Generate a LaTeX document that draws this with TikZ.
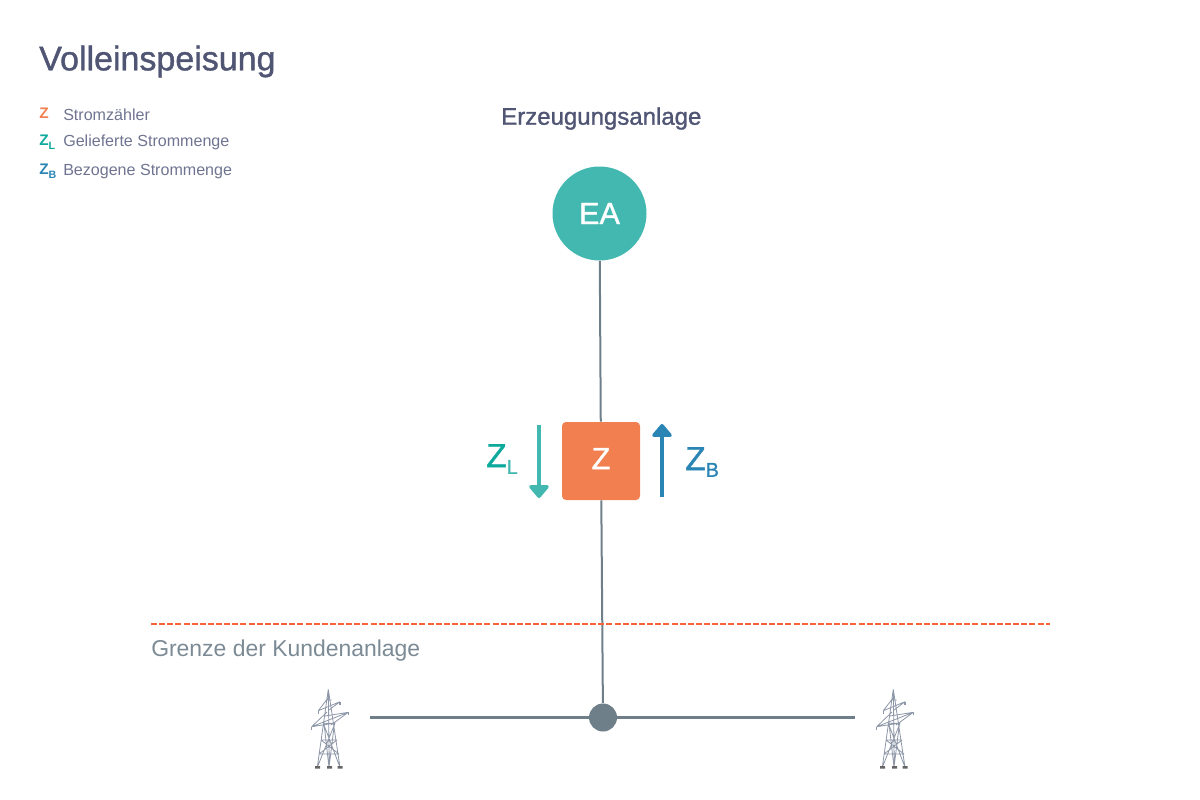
\documentclass[tikz,border=0pt]{standalone}
\usepackage{fontspec}
\setmainfont{Liberation Sans}
\newfontfamily\mediumfont[FakeBold=1.2]{Liberation Sans}
\usetikzlibrary{arrows.meta, positioning}
\definecolor{titleblue}{HTML}{4F5573}
\definecolor{legendgray}{HTML}{6F7490}
\definecolor{eateal}{HTML}{42B8B0}
\definecolor{deepteal}{HTML}{0CA99C}
\definecolor{meterorange}{HTML}{F27F4F}
\definecolor{flowblue}{HTML}{2A85B5}
\definecolor{linegray}{HTML}{6F7F8A}
\definecolor{borderred}{HTML}{F9623A}
\definecolor{bordertext}{HTML}{7B8A94}
\definecolor{pylongray}{HTML}{8E97A8}
\tikzset{
  lbl/.style={anchor=west, inner sep=0pt},
  legendtext/.style={lbl, font=\fontsize{12.05}{14}\selectfont, text=legendgray},
  legendkey/.style={lbl, font=\fontsize{11.5}{14}\selectfont\bfseries},
  flow/.style={line width=3.4pt, -{Triangle[length=10.5pt, width=17pt, round]}},
  wire/.style={draw=linegray, line width=1.5pt},
  pics/pylon/.style={code={
    \draw[pylongray, line width=0.6pt, line join=round]
      (-1.7,-40.7) -- (-12.7,37.3) (-1.7,-40.7) -- (10,37.3) (-1.7,-40.7) -- (-0.7,37.3)
      (-4,-30) -- (1.7,-30)
      (-11.7,-19.3) -- (10,-28.3) (-11.7,-19.3) -- (-2,-32) (10,-28.3) -- (-1,-20)
      (-18.3,-3.3) -- (18.3,-17.7) (-18.3,-3.3) -- (-3,-18) (18.3,-17.7) -- (1,-5)
      (-18.3,-3.3) -- (5,-7) (18.3,-17.7) -- (-5,-14)
      (-6.7,-6.7) -- (10,37.3) (5,-6.7) -- (-12.7,37.3)
      (-6.7,-6.7) -- (5,-6.7) (-9,10) -- (7,10) (-11,24) -- (9,24)
      (-9,10) -- (9,24) (7,10) -- (-11,24)
      (-6,-6.7) -- (-1,37.3) (4.5,-6.7) -- (-1,37.3);
    \draw[pylongray, line width=1.1pt] (-11.7,-19.3) -- ++(0,3) (10,-28.3) -- ++(0,3)
      (-18.3,-3.3) -- ++(0,3) (18.3,-17.7) -- ++(0,3);
    \fill[black!60] (-15,36) rectangle (-10,38.5) (-3,36) rectangle (2,38.5) (7.5,36) rectangle (12.5,38.5);
  }}
}
\begin{document}
\begin{tikzpicture}[x=0.75pt, y=-0.75pt]
\useasboundingbox (0,0) rectangle (1200,800);
% Title and legend
\node[lbl, font=\fontsize{25.5}{30}\mediumfont, text=titleblue] (title) at (39,61.5) {Volleinspeisung};
\node[legendkey, text=meterorange] (keyz) at (39,113) {Z};
\node[legendtext] (textz) at (63,114.5) {Stromzähler};
\node[legendkey, text=deepteal] (keyl) at (39,142) {Z\raisebox{-3pt}{\fontsize{8}{9}\selectfont L}};
\node[legendtext] (textl) at (63,142.5) {Gelieferte Strommenge};
\node[legendkey, text=flowblue] (keyb) at (39,171) {Z\raisebox{-3pt}{\fontsize{8}{9}\selectfont B}};
\node[legendtext] (textb) at (63,171.5) {Bezogene Strommenge};
\node[lbl, font=\fontsize{18}{22}\mediumfont, text=titleblue] (plant) at (501,118.5) {Erzeugungsanlage};

% Plant, meter and grid point
\node[circle, fill=eateal, minimum size=70.5pt, inner sep=0pt, text=white, font=\fontsize{23}{28}\mediumfont] (ea) at (599.5,213.5) {EA};
\node[rectangle, rounded corners=3pt, fill=meterorange, minimum size=58.5pt, inner sep=0pt, font=\fontsize{23}{28}\mediumfont, text=white] (meter) at (601,461) {\raisebox{3.5pt}{Z}};
\node[circle, fill=linegray, minimum size=21pt, inner sep=0pt] (grid) at (603,717.5) {};
\coordinate (gridleft) at (370,717.5);
\coordinate (gridright) at (855,717.5);
\draw[wire] (ea) -- (meter);
\draw[wire] (meter) -- (grid);
\draw[draw=linegray, line width=2.2pt] (gridleft) -- (grid) -- (gridright);

% Flow arrows
\coordinate (ltop) at (539,425);
\coordinate (lend) at (539,498);
\coordinate (btop) at (662,424);
\coordinate (bend) at (662,497);
\draw[flow, eateal] (ltop) -- (lend);
\draw[flow, flowblue] (bend) -- (btop);
\node[lbl, font=\fontsize{25}{30}\mediumfont, text=deepteal] (zl) at (486,459) {Z\raisebox{-5pt}{\textcolor{eateal}{\fontsize{15}{18}\selectfont L}}};
\node[lbl, font=\fontsize{25}{30}\mediumfont, text=flowblue] (zb) at (685,462) {Z\raisebox{-5pt}{\fontsize{15}{18}\mediumfont B}};

% Customer boundary
\coordinate (borderleft) at (151,624);
\coordinate (borderright) at (1050,624);
\draw[borderred, line width=1.3pt, dash pattern=on 4.5pt off 1.6pt] (borderleft) -- (borderright);
\node[lbl, font=\fontsize{17.2}{21}\selectfont, text=bordertext] (bordername) at (151,651) {Grenze der Kundenanlage};

% Pylons
\pic at (330,730) {pylon};
\pic at (895,730) {pylon};
\end{tikzpicture}
\end{document}
